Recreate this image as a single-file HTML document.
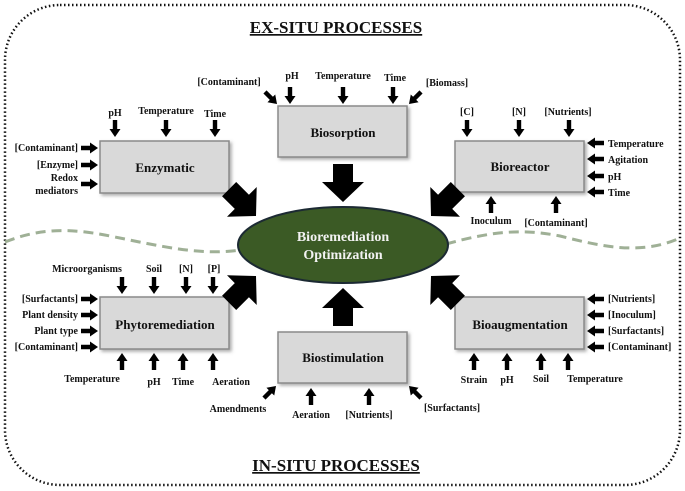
<!DOCTYPE html>
<html><head><meta charset="utf-8"><style>
html,body{margin:0;padding:0;background:#fff}
svg{display:block}
text{font-family:"Liberation Serif",serif;font-weight:bold;fill:#111}
</style></head><body>
<svg width="685" height="491" viewBox="0 0 685 491" xmlns="http://www.w3.org/2000/svg">
<defs>
<path id="s" d="M-2.2,-17 H2.2 V-8 H5.5 L0,0 L-5.5,-8 H-2.2 Z" fill="#000"/>
<path id="b" d="M-10,-38 H10 V-20 H21 L0,0 L-21,-20 H-10 Z" fill="#000"/>
<filter id="sh" x="-10%" y="-10%" width="130%" height="130%"><feDropShadow dx="2" dy="2" stdDeviation="1.5" flood-color="#777" flood-opacity="0.6"/></filter>
</defs>
<rect x="5" y="5" width="675" height="480" rx="55" fill="none" stroke="#111" stroke-width="2.5" stroke-dasharray="1.5 2.5"/>
<path d="M5,242 C40,228 70,228 110,236 C160,246 200,256 240,250" fill="none" stroke="#9fb096" stroke-width="3" stroke-dasharray="10 6"/>
<path d="M446,244 C490,232 520,228 560,236 C600,246 640,256 680,238" fill="none" stroke="#9fb096" stroke-width="3" stroke-dasharray="10 6"/>

<text x="336" y="33" text-anchor="middle" font-size="17" style="text-decoration:underline">EX-SITU PROCESSES</text>
<text x="336" y="471" text-anchor="middle" font-size="17" style="text-decoration:underline">IN-SITU PROCESSES</text>

<g fill="#d9d9d9" stroke="#8a8a8a" stroke-width="1.5" filter="url(#sh)">
<rect x="278" y="106" width="129" height="51"/>
<rect x="100" y="141" width="129" height="52"/>
<rect x="455" y="141" width="129" height="51"/>
<rect x="100" y="297" width="129" height="52"/>
<rect x="278" y="332" width="129" height="51"/>
<rect x="455" y="297" width="129" height="52"/>
</g>
<ellipse cx="343" cy="245" rx="105" ry="38" fill="#3b5a25" stroke="#1c2a33" stroke-width="2"/>
<text x="343" y="241" text-anchor="middle" font-size="14" style="fill:#f2f2f2">Bioremediation</text>
<text x="343" y="259" text-anchor="middle" font-size="14" style="fill:#f2f2f2">Optimization</text>

<g font-size="13" text-anchor="middle">
<text x="343" y="137">Biosorption</text>
<text x="165" y="172">Enzymatic</text>
<text x="520" y="171">Bioreactor</text>
<text x="165" y="329">Phytoremediation</text>
<text x="343" y="362">Biostimulation</text>
<text x="520" y="329">Bioaugmentation</text>
</g>

<!-- big arrows -->
<use href="#b" transform="translate(343,202)"/>
<use href="#b" transform="translate(256,216) rotate(-45)"/>
<use href="#b" transform="translate(431,216) rotate(45)"/>
<use href="#b" transform="translate(343,288) rotate(180)"/>
<use href="#b" transform="translate(256,276) rotate(-135)"/>
<use href="#b" transform="translate(431,276) rotate(135)"/>

<g font-size="10">
<!-- Biosorption -->
<text x="229" y="85" text-anchor="middle">[Contaminant]</text>
<text x="292" y="79" text-anchor="middle">pH</text>
<text x="343" y="79" text-anchor="middle">Temperature</text>
<text x="395" y="81" text-anchor="middle">Time</text>
<text x="447" y="86" text-anchor="middle">[Biomass]</text>
<use href="#s" transform="translate(290,104)"/>
<use href="#s" transform="translate(343,104)"/>
<use href="#s" transform="translate(393,104)"/>
<use href="#s" transform="translate(277,104) rotate(-45)"/>
<use href="#s" transform="translate(409,104) rotate(45)"/>
<!-- Enzymatic -->
<text x="115" y="116" text-anchor="middle">pH</text>
<text x="166" y="114" text-anchor="middle">Temperature</text>
<text x="215" y="117" text-anchor="middle">Time</text>
<use href="#s" transform="translate(115,137)"/>
<use href="#s" transform="translate(166,137)"/>
<use href="#s" transform="translate(215,137)"/>
<text x="78" y="151" text-anchor="end">[Contaminant]</text>
<text x="78" y="168" text-anchor="end">[Enzyme]</text>
<text x="78" y="181" text-anchor="end">Redox</text>
<text x="78" y="194" text-anchor="end">mediators</text>
<use href="#s" transform="translate(98,148) rotate(-90)"/>
<use href="#s" transform="translate(98,165) rotate(-90)"/>
<use href="#s" transform="translate(98,184) rotate(-90)"/>
<!-- Bioreactor -->
<text x="467" y="115" text-anchor="middle">[C]</text>
<text x="519" y="115" text-anchor="middle">[N]</text>
<text x="568" y="115" text-anchor="middle">[Nutrients]</text>
<use href="#s" transform="translate(467,137)"/>
<use href="#s" transform="translate(519,137)"/>
<use href="#s" transform="translate(569,137)"/>
<use href="#s" transform="translate(587,143) rotate(90)"/>
<use href="#s" transform="translate(587,159) rotate(90)"/>
<use href="#s" transform="translate(587,176) rotate(90)"/>
<use href="#s" transform="translate(587,192) rotate(90)"/>
<text x="608" y="147">Temperature</text>
<text x="608" y="163">Agitation</text>
<text x="608" y="180">pH</text>
<text x="608" y="196">Time</text>
<use href="#s" transform="translate(491,196) rotate(180)"/>
<use href="#s" transform="translate(556,196) rotate(180)"/>
<text x="491" y="224" text-anchor="middle">Inoculum</text>
<text x="556" y="226" text-anchor="middle">[Contaminant]</text>
<!-- Phytoremediation -->
<text x="87" y="272" text-anchor="middle">Microorganisms</text>
<text x="154" y="272" text-anchor="middle">Soil</text>
<text x="186" y="272" text-anchor="middle">[N]</text>
<text x="214" y="272" text-anchor="middle">[P]</text>
<use href="#s" transform="translate(122,294)"/>
<use href="#s" transform="translate(154,294)"/>
<use href="#s" transform="translate(186,294)"/>
<use href="#s" transform="translate(213,294)"/>
<text x="78" y="302" text-anchor="end">[Surfactants]</text>
<text x="78" y="318" text-anchor="end">Plant density</text>
<text x="78" y="334" text-anchor="end">Plant type</text>
<text x="78" y="350" text-anchor="end">[Contaminant]</text>
<use href="#s" transform="translate(98,299) rotate(-90)"/>
<use href="#s" transform="translate(98,315) rotate(-90)"/>
<use href="#s" transform="translate(98,331) rotate(-90)"/>
<use href="#s" transform="translate(98,347) rotate(-90)"/>
<use href="#s" transform="translate(122,353) rotate(180)"/>
<use href="#s" transform="translate(154,353) rotate(180)"/>
<use href="#s" transform="translate(183,353) rotate(180)"/>
<use href="#s" transform="translate(213,353) rotate(180)"/>
<text x="92" y="382" text-anchor="middle">Temperature</text>
<text x="154" y="385" text-anchor="middle">pH</text>
<text x="183" y="385" text-anchor="middle">Time</text>
<text x="231" y="385" text-anchor="middle">Aeration</text>
<!-- Biostimulation -->
<use href="#s" transform="translate(276,386) rotate(-135)"/>
<use href="#s" transform="translate(311,388) rotate(180)"/>
<use href="#s" transform="translate(369,388) rotate(180)"/>
<use href="#s" transform="translate(409,386) rotate(135)"/>
<text x="238" y="412" text-anchor="middle">Amendments</text>
<text x="311" y="418" text-anchor="middle">Aeration</text>
<text x="369" y="418" text-anchor="middle">[Nutrients]</text>
<text x="452" y="411" text-anchor="middle">[Surfactants]</text>
<!-- Bioaugmentation -->
<use href="#s" transform="translate(587,299) rotate(90)"/>
<use href="#s" transform="translate(587,315) rotate(90)"/>
<use href="#s" transform="translate(587,331) rotate(90)"/>
<use href="#s" transform="translate(587,347) rotate(90)"/>
<text x="608" y="302">[Nutrients]</text>
<text x="608" y="318">[Inoculum]</text>
<text x="608" y="334">[Surfactants]</text>
<text x="608" y="350">[Contaminant]</text>
<use href="#s" transform="translate(474,353) rotate(180)"/>
<use href="#s" transform="translate(507,353) rotate(180)"/>
<use href="#s" transform="translate(541,353) rotate(180)"/>
<use href="#s" transform="translate(568,353) rotate(180)"/>
<text x="474" y="383" text-anchor="middle">Strain</text>
<text x="507" y="383" text-anchor="middle">pH</text>
<text x="541" y="382" text-anchor="middle">Soil</text>
<text x="595" y="382" text-anchor="middle">Temperature</text>
</g>
</svg>
</body></html>
